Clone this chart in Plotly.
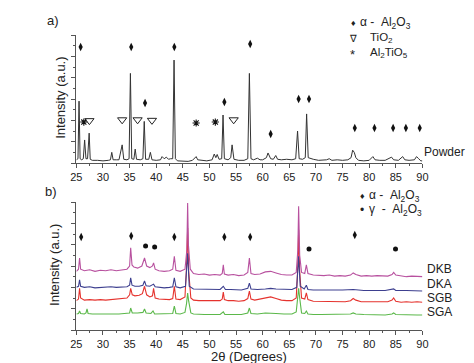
import plotly.graph_objects as go

# ---------------- Panel a: powder pattern (2theta, intensity) ----------------
POWDER = [
    (25.0, 3), (25.3, 4), (25.5, 58), (25.7, 4), (26.0, 3), (26.3, 4), (26.55, 21.6), (26.8, 4),
    (27.1, 4), (27.4, 28), (27.6, 3.5), (28.0, 2.5), (29.0, 2.5), (30.0, 2), (31.0, 2.5), (31.4, 3),
    (31.65, 10), (31.9, 3), (32.5, 3), (33.0, 3), (33.6, 17), (33.9, 3.5), (34.5, 3), (34.9, 4),
    (35.15, 84), (35.4, 4), (35.8, 3.5), (36.05, 13), (36.3, 3.5), (37.0, 3), (37.5, 4), (37.75, 39),
    (38.0, 3.5), (38.6, 3.5), (38.9, 10), (39.2, 3), (40.0, 2.5), (40.8, 3), (41.1, 6), (41.5, 4),
    (41.9, 5.5), (42.3, 3.5), (42.7, 4), (43.1, 4), (43.35, 96.5), (43.6, 4), (44.0, 2), (45.0, 2),
    (46.0, 1.5), (46.8, 2.5), (47.2, 4), (47.5, 6), (47.8, 3), (48.5, 2.5), (49.5, 2), (50.5, 3),
    (50.9, 8.4), (51.2, 5), (51.45, 8), (51.8, 3.5), (52.3, 4), (52.55, 45), (52.8, 4), (53.5, 3),
    (54.0, 5), (54.25, 17), (54.6, 3.5), (55.5, 2.5), (56.5, 2.5), (57.2, 4), (57.5, 84), (57.8, 4),
    (58.3, 3), (59.0, 4.5), (59.5, 3), (60.0, 3), (60.7, 5), (61.0, 9.4), (61.5, 4), (62.0, 3.5),
    (62.45, 7), (62.8, 3.5), (63.5, 3), (64.5, 3.5), (65.5, 3), (66.2, 4), (66.55, 30), (66.85, 4),
    (67.5, 3.5), (68.0, 5), (68.25, 46), (68.55, 5), (69.0, 4), (69.5, 3.5), (70.5, 2.5), (72.0, 3),
    (72.5, 4), (73.0, 2.5), (74.0, 3), (75.0, 2.5), (76.0, 3), (76.6, 5), (76.9, 12), (77.2, 10),
    (77.5, 5), (78.0, 2.5), (79.0, 2), (80.0, 2.5), (80.7, 6), (81.1, 3), (82.0, 2.5), (83.0, 2.5),
    (84.2, 5.5), (84.6, 3), (85.5, 2.5), (86.3, 6), (86.7, 3), (87.5, 2.5), (88.5, 3), (88.9, 6),
    (89.3, 4), (89.7, 2), (90.0, 2),
]

A_ALPHA_X = [25.8, 35.3, 43.4, 57.65, 37.9, 52.8, 61.5, 66.75, 68.7, 77.3, 81.0, 84.5, 86.9, 89.5]
A_ALPHA_Y = [108.8, 108.8, 108.8, 111.6, 56.3, 57.2, 27.2, 60.0, 60.0, 32.8, 32.8, 32.8, 32.8, 32.8]
A_TIO2_X = [27.45, 33.6, 36.5, 39.2, 54.55]
A_TIO2_Y = [39.7, 40.5, 40.5, 40.0, 40.5]
A_AT_X = [26.4, 47.5, 51.1]
A_AT_Y = [38.4, 37.5, 38.4]

# ---------------- Panel b: four samples ----------------
DKB = [
    (25.0, 55), (25.4, 57), (25.6, 67.5), (25.8, 57), (26.5, 55.5), (27.5, 56.5), (28.5, 55), (29.5, 56),
    (30.5, 55.5), (31.5, 56.5), (32.5, 55.5), (33.5, 56.5), (34.5, 57), (35.0, 60), (35.2, 77), (35.45, 61),
    (35.8, 59), (36.5, 58), (37.3, 60), (37.8, 67.5), (38.2, 60), (38.8, 58.5), (39.3, 60), (39.5, 63),
    (39.8, 57), (40.5, 55.5), (41.5, 55), (42.5, 55.5), (43.1, 57), (43.4, 69), (43.7, 56), (44.5, 55),
    (45.4, 57), (45.75, 75), (45.9, 119), (46.05, 80), (46.4, 57), (47.0, 53), (48.0, 52), (49.0, 52.5),
    (50.0, 51.5), (51.0, 52), (52.0, 51.5), (52.4, 53), (52.6, 61), (52.8, 52.5), (53.5, 51.5), (54.5, 52),
    (55.5, 51), (56.5, 51.5), (57.2, 54), (57.5, 67.5), (57.8, 53), (58.5, 52), (59.5, 52.5), (60.5, 54.5),
    (61.5, 55), (62.5, 53.5), (63.5, 52), (64.5, 51.5), (65.5, 51.5), (66.3, 54), (66.6, 75), (66.75, 116),
    (66.95, 70), (67.3, 54), (67.9, 53), (68.2, 61), (68.5, 53), (69.5, 51.5), (70.5, 51), (71.5, 51),
    (72.5, 51.5), (73.5, 50.5), (74.5, 51), (75.5, 50.5), (76.5, 51.5), (77.0, 53.5), (77.5, 52), (78.5, 50.5),
    (79.5, 51), (80.5, 50.5), (81.5, 51), (82.5, 50.5), (83.5, 50.5), (84.3, 52), (84.6, 54), (85.0, 51.5),
    (86.0, 50.5), (87.0, 50), (88.0, 50.5), (89.0, 50), (90.0, 50),
]
DKA = [
    (25.0, 40), (25.4, 41), (25.6, 47), (25.8, 41), (26.5, 40), (27.5, 40.5), (28.5, 39.5), (29.5, 40),
    (30.5, 40), (31.5, 40.5), (32.5, 40), (33.5, 40), (34.5, 40.5), (35.0, 42), (35.2, 49), (35.45, 42),
    (36.0, 41), (36.8, 41), (37.5, 42), (37.8, 46), (38.1, 41.5), (38.8, 41), (39.5, 43), (39.8, 40.5),
    (40.5, 40), (41.5, 39.5), (42.5, 40), (43.1, 40.5), (43.4, 49), (43.7, 40.5), (44.5, 39.5), (45.5, 41),
    (45.9, 72), (46.2, 41), (47.0, 38.5), (48.0, 38.5), (49.0, 38), (50.0, 38.5), (51.0, 38), (52.0, 38),
    (52.6, 41), (53.0, 38), (54.0, 38), (55.0, 38), (56.0, 37.5), (57.2, 39), (57.5, 44), (57.8, 38.5),
    (59.0, 38), (60.5, 38.5), (61.5, 39), (62.5, 38.5), (64.0, 38), (65.5, 38), (66.4, 40), (66.75, 69),
    (67.05, 41), (67.8, 38.5), (68.2, 42), (68.5, 38), (69.5, 37.5), (71.0, 37.5), (73.0, 37), (75.0, 37.5),
    (77.0, 38), (79.0, 37), (81.0, 37), (83.0, 37), (84.6, 38.5), (85.0, 37), (87.0, 37), (89.0, 36.5),
    (90.0, 36.5),
]
SGB = [
    (25.0, 27.5), (25.4, 29), (25.6, 39), (25.8, 30), (26.5, 28), (27.5, 28.5), (28.5, 28), (29.5, 28.5),
    (30.5, 28), (31.5, 28.5), (32.5, 28.5), (33.5, 29), (34.5, 30), (35.0, 33), (35.2, 39), (35.5, 33),
    (36.0, 32), (36.8, 32.5), (37.4, 34), (37.8, 41), (38.2, 33), (38.8, 31), (39.3, 32), (39.5, 39),
    (39.8, 30), (40.5, 29), (41.5, 28.5), (42.5, 28.5), (43.1, 29.5), (43.4, 41), (43.7, 29), (44.5, 28.5),
    (45.4, 31), (45.7, 60), (45.9, 95.5), (46.1, 55), (46.5, 30), (47.0, 28), (48.0, 27.5), (49.0, 27.5),
    (50.0, 27), (51.0, 27.5), (52.0, 27.5), (52.4, 29), (52.6, 35.5), (52.8, 28.5), (53.5, 27.5), (54.5, 27.5),
    (55.5, 27), (56.5, 27.5), (57.2, 29.5), (57.5, 36.5), (57.8, 29), (58.5, 28), (59.5, 29), (60.5, 30.5),
    (61.5, 31), (62.5, 29.5), (63.5, 28), (64.5, 27.5), (65.5, 27.5), (66.3, 30), (66.6, 60), (66.75, 94),
    (66.95, 55), (67.3, 30), (67.9, 29), (68.2, 34.7), (68.5, 28.5), (69.5, 27), (70.5, 27), (71.5, 26.5),
    (72.5, 27), (73.5, 26.5), (74.5, 27), (75.5, 26.5), (76.5, 27.5), (77.0, 29.5), (77.5, 28), (78.5, 26.5),
    (79.5, 26.5), (80.5, 26.5), (81.5, 26), (82.5, 26.5), (83.5, 26.5), (84.3, 28), (84.6, 30), (85.0, 27),
    (86.0, 26), (87.0, 26.5), (88.0, 26), (89.0, 26.5), (90.0, 26),
]
SGA = [
    (25.0, 15), (25.4, 15.5), (25.6, 17.8), (25.8, 15.5), (26.5, 15), (26.8, 16), (27.0, 19.7), (27.2, 15.5),
    (28.0, 15), (29.0, 15), (30.0, 14.5), (31.0, 15), (32.0, 15), (33.0, 15), (34.0, 15.5), (35.0, 16),
    (35.2, 20.6), (35.5, 16), (36.5, 16), (37.5, 16.5), (37.8, 19.7), (38.1, 16), (39.0, 15.5), (39.4, 17.8),
    (39.7, 15), (40.5, 15), (41.5, 15), (42.5, 15), (43.1, 15.5), (43.4, 22.5), (43.7, 15.5), (44.5, 15),
    (45.4, 16.5), (45.7, 25), (45.9, 34.7), (46.1, 27), (46.5, 16), (47.0, 15), (48.0, 14.5), (49.0, 14.5),
    (50.0, 14.5), (51.0, 14.5), (52.0, 14.5), (52.6, 17), (52.9, 14.5), (54.0, 14.5), (55.0, 14.5), (56.0, 14.5),
    (57.2, 16), (57.5, 20.6), (57.8, 15.5), (59.0, 15), (60.5, 16), (61.5, 16), (62.5, 15.5), (64.0, 15),
    (65.5, 15), (66.3, 17), (66.6, 30), (66.75, 39), (66.95, 30), (67.3, 16), (67.9, 15.5), (68.2, 17.8),
    (68.5, 15), (69.5, 14.5), (71.0, 14.5), (73.0, 14.5), (75.0, 14.5), (76.5, 15), (77.0, 16), (77.5, 15),
    (79.0, 14.5), (81.0, 14), (83.0, 14), (84.3, 15), (84.6, 16), (85.0, 14.5), (87.0, 14), (89.0, 14),
    (90.0, 14),
]
B_SERIES = ["SGA", "SGB", "DKA", "DKB"]
B_COLORS = {"SGA": "#5bb84a", "SGB": "#e5322d", "DKA": "#3d3f8f", "DKB": "#b8519f"}
B_DATA = {"SGA": SGA, "SGB": SGB, "DKA": DKA, "DKB": DKB}

B_ALPHA_X = [25.9, 35.3, 43.4, 52.8, 57.65, 77.3]
B_ALPHA_Y = [87.2, 88.1, 87.2, 87.2, 87.2, 89.1]
B_GAMMA_X = [38.0, 39.7, 46.05, 66.9, 68.7, 84.95]
B_GAMMA_Y = [78.8, 77.8, 132.2, 133.1, 76.0, 76.0]

X_TICKS = list(range(25, 91, 5))

FONT = "Liberation Sans, Arial, sans-serif"
TXT = "#222222"
AX = "#555555"

fig = go.Figure()

fig.add_trace(go.Scatter(x=[p[0] for p in POWDER], y=[p[1] for p in POWDER], mode="lines",
                         line=dict(color="#333333", width=1), xaxis="x", yaxis="y", showlegend=False))
fig.add_trace(go.Scatter(x=A_ALPHA_X, y=A_ALPHA_Y, mode="markers", cliponaxis=False,
                         marker=dict(symbol="diamond-tall", size=6, color="#111111"),
                         xaxis="x", yaxis="y", showlegend=False))
fig.add_trace(go.Scatter(x=A_TIO2_X, y=A_TIO2_Y, mode="markers", cliponaxis=False,
                         marker=dict(symbol="triangle-down-open", size=8, color="#222222", line=dict(width=1)),
                         xaxis="x", yaxis="y", showlegend=False))
fig.add_trace(go.Scatter(x=A_AT_X, y=A_AT_Y, mode="markers", cliponaxis=False,
                         marker=dict(symbol="asterisk-open", size=6, color="#111111", line=dict(width=1.1, color="#111111")),
                         xaxis="x", yaxis="y", showlegend=False))

for name in B_SERIES:
    d = B_DATA[name]
    fig.add_trace(go.Scatter(x=[p[0] for p in d], y=[p[1] for p in d], mode="lines",
                             line=dict(color=B_COLORS[name], width=1.1), xaxis="x2", yaxis="y2",
                             showlegend=False))
fig.add_trace(go.Scatter(x=B_ALPHA_X, y=B_ALPHA_Y, mode="markers", cliponaxis=False,
                         marker=dict(symbol="diamond-tall", size=6, color="#111111"),
                         xaxis="x2", yaxis="y2", showlegend=False))
fig.add_trace(go.Scatter(x=B_GAMMA_X, y=B_GAMMA_Y, mode="markers", cliponaxis=False,
                         marker=dict(symbol="circle", size=5, color="#111111"),
                         xaxis="x2", yaxis="y2", showlegend=False))

W, H = 474, 363
xd = [64 / W, 419 / W]


def xax(anchor):
    return dict(domain=xd, anchor=anchor, range=[25, 90], tickvals=X_TICKS, ticks="outside", ticklen=4,
                tickwidth=1, tickcolor=AX, showline=True, linecolor=AX, linewidth=1, showgrid=False,
                zeroline=False, tickfont=dict(family=FONT, size=11, color=TXT),
                minor=dict(dtick=2.5, tick0=25, ticks="outside", ticklen=2, tickcolor=AX, showgrid=False))


def yax(anchor, top, bot):
    return dict(domain=[1 - bot / H, 1 - top / H], anchor=anchor, range=[0, 120], dtick=20, ticks="outside",
                ticklen=4, tickwidth=1, tickcolor=AX, showticklabels=False, showline=True, linecolor=AX,
                linewidth=1, showgrid=False, zeroline=False,
                minor=dict(dtick=10, ticks="outside", ticklen=2, tickcolor=AX, showgrid=False))


def px(x, y):
    return x / W, 1 - y / H


ann = []


def text(x, y, s, size=12, xanchor="left", angle=0):
    xx, yy = px(x, y)
    ann.append(dict(x=xx, y=yy, xref="paper", yref="paper", text=s, showarrow=False, xanchor=xanchor,
                    yanchor="middle", textangle=angle, borderpad=0,
                    font=dict(family=FONT, size=size, color=TXT)))


text(33, 12, "a)", 13)
text(31, 183, "b)", 13)
text(47, 90, "Intensity (a.u.)", 13, "center", -90)
text(41, 257, "Intensity (a.u.)", 13, "center", -90)
text(241, 348, "2θ (Degrees)", 13, "center")
text(420, 144, "Powder", 12)
text(423, 261, "DKB", 12)
text(423, 276, "DKA", 12)
text(423, 290, "SGB", 12)
text(423, 304, "SGA", 12)
# legend a
text(345, 15, "♦", 9)
text(354, 15, "α -  Al<sub>2</sub>O<sub>3</sub>", 12)
text(343, 31, "∇", 10)
text(364, 30, "TiO<sub>2</sub>", 11.5)
text(344, 47, "*", 13)
text(364, 45, "Al<sub>2</sub>TiO<sub>5</sub>", 11.5)
# legend b
text(354, 188, "♦", 9)
text(363, 188, "α -  Al<sub>2</sub>O<sub>3</sub>", 12)
text(354, 202, "•", 12)
text(363, 202, "γ  -  Al<sub>2</sub>O<sub>3</sub>", 12)

fig.update_layout(
    width=W, height=H, autosize=False, margin=dict(l=0, r=0, t=0, b=0),
    paper_bgcolor="white", plot_bgcolor="white",
    xaxis=xax("y"), yaxis=yax("x", 27, 155),
    xaxis2=xax("y2"), yaxis2=yax("x2", 194, 322),
    annotations=ann, showlegend=False,
)

fig.write_html("out.html")
